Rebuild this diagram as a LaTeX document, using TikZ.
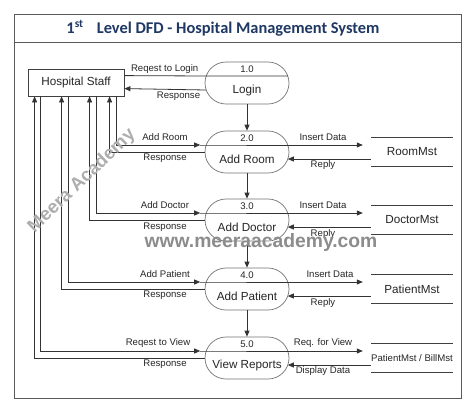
\documentclass[tikz,border=0pt]{standalone}
\usepackage{fontspec}
\setmainfont{Liberation Sans}
\newfontfamily\titlefont{Carlito}
\usetikzlibrary{arrows.meta,shapes.misc,calc}
\definecolor{titleblue}{HTML}{1F3864}
\definecolor{framegray}{HTML}{5A5A5A}
\definecolor{wmgray}{HTML}{8C8C8C}
\definecolor{wmlight}{HTML}{ADADAD}
\begin{document}
\begin{tikzpicture}[x=1pt,y=-1pt,
  flow/.style={draw=black!80, line width=0.8pt},
  arr/.style={flow,-{Triangle[length=6pt,width=5pt]}},
  proc/.style={rounded rectangle, draw=black!55, line width=0.7pt, minimum width=84pt, minimum height=42pt, inner sep=0pt},
  lbl/.style={font=\fontsize{9.6}{10}\selectfont, text=black!85, inner sep=0.5pt},
  big/.style={font=\fontsize{11.7}{12}\selectfont, text=black!85, inner sep=0.5pt},
  storenode/.style={minimum width=82pt, minimum height=28pt, inner sep=0pt, font=\fontsize{11.7}{12}\selectfont, text=black!85},
  storeline/.style={draw=black!75, line width=0.8pt},
  entity/.style={draw=black!75, line width=0.8pt, minimum width=96pt, minimum height=27pt, inner sep=0pt, font=\fontsize{11.7}{12}\selectfont, text=black!85},
  wmA/.style={font=\bfseries\fontsize{18.5}{20}\selectfont, rotate=44, inner sep=0pt},
  wmB/.style={font=\bfseries\fontsize{19.3}{20}\selectfont, inner sep=0pt}]
\useasboundingbox (0,0) rectangle (474,413);
\fill[white] (0,0) rectangle (474,413);
% frame
\draw[framegray, line width=1pt] (14,14) rectangle (461,398);
\draw[framegray, line width=1pt] (14,42) -- (461,42);
\node[font=\titlefont\bfseries\fontsize{16.4}{18}\selectfont, text=titleblue, inner sep=0pt] (title) at (223,28.5) {1\textsuperscript{st}\hspace{0.8em}Level DFD - Hospital Management System};

% entity
\node[entity] (staff) at (76,82.5) {Hospital Staff};

% processes
\node[proc] (p1) at (247,83) {};
\node[proc] (p2) at (247,152) {};
\node[proc] (p3) at (247,220) {};
\node[proc] (p4) at (247,289) {};
\node[proc] (p5) at (247,358) {};
\foreach \i/\num/\name in {1/1.0/Login,2/2.0/Add Room,3/3.0/Add Doctor,4/4.0/Add Patient,5/5.0/View Reports}{
  \node[lbl] (p\i n) at ($(p\i.center)+(0,-14)$) {\num};
  \node[big] (p\i l) at ($(p\i.center)+(0,7)$) {\name};
  \coordinate (p\i dl) at ($(p\i.center)+(-40.8,-7)$);
  \coordinate (p\i dr) at ($(p\i.center)+(40.8,-7)$);
  \coordinate (p\i bl) at ($(p\i.center)+(-40.8,7)$);
  \coordinate (p\i br) at ($(p\i.center)+(40.8,7)$);
}

% stores
\node[storenode] (st2) at (412,152) {RoomMst};
\node[storenode] (st3) at (412,220) {DoctorMst};
\node[storenode] (st4) at (412,289) {PatientMst};
\node[storenode, font=\fontsize{9.6}{10}\selectfont] (st5) at (412,358) {PatientMst / BillMst};
\foreach \i in {2,3,4,5}{
  \draw[storeline] (st\i.north west) -- (st\i.north east);
  \draw[storeline] (st\i.south west) -- (st\i.south east);
}

% login flows
\coordinate (sLreq) at ($(staff.north east)+(0,7)$);
\coordinate (sLres) at ($(staff.north east)+(0,20)$);
\draw[flow] (sLreq) -- (p1dl) -- (p1dr);
\draw[arr] (p1bl) -- (sLres);
\node[lbl, anchor=south east] (lreq) at (199,74) {Reqest to Login};
\node[lbl] (lres) at (178.5,96.5) {Response};

% vertical flows between processes
\draw[arr] (p1.south) -- (p2.north);
\draw[arr] (p2.south) -- (p3.north);
\draw[arr] (p3.south) -- (p4.north);
\draw[arr] (p4.south) -- (p5.north);

% staff foot points
\coordinate (f2q) at ($(staff.south west)+(89,0)$);
\coordinate (f2r) at ($(staff.south west)+(82,0)$);
\coordinate (f3q) at ($(staff.south west)+(69,0)$);
\coordinate (f3r) at ($(staff.south west)+(62,0)$);
\coordinate (f4q) at ($(staff.south west)+(41,0)$);
\coordinate (f4r) at ($(staff.south west)+(34,0)$);
\coordinate (f5q) at ($(staff.south west)+(13,0)$);
\coordinate (f5r) at ($(staff.south west)+(7,0)$);

\foreach \i in {2,3,4,5}{
  \coordinate (a\i) at ($(p\i dl)+(-6,0)$);
  \draw[arr] (f\i q) |- (a\i);
  \draw[flow] (a\i) -- (p\i dl) -- (p\i dr);
  \draw[arr] (p\i.west) -| (f\i r);
  \coordinate (in\i) at ($(st\i.west)+(-8,-7)$);
  \coordinate (rp\i) at ($(st\i.west)+(0,7)$);
  \draw[arr] (p\i dr) -- (in\i);
  \draw[arr] (rp\i) -- (p\i br);
}

% left labels
\node[lbl] (q2) at (165,137) {Add Room};
\node[lbl] (r2) at (165,158.5) {Response};
\node[lbl] (q3) at (165,205.5) {Add Doctor};
\node[lbl] (r3) at (165,227) {Response};
\node[lbl] (q4) at (165,274.5) {Add Patient};
\node[lbl] (r4) at (165,295.5) {Response};
\node[lbl] (q5) at (158,343) {Reqest to View};
\node[lbl] (r5) at (165,364.5) {Response};

% right labels
\node[lbl] (i2) at (323,137) {Insert Data};
\node[lbl] (y2) at (323,165) {Reply};
\node[lbl] (i3) at (323,205.5) {Insert Data};
\node[lbl] (y3) at (323,234) {Reply};
\node[lbl] (i4) at (330,274.5) {Insert Data};
\node[lbl] (y4) at (323,303) {Reply};
\node[lbl] (i5) at (323,343) {Req. for View};
\node[lbl] (y5) at (323,371.5) {Display Data};

% watermarks
\node[wmA, text=wmlight] (wm1) at (82,181) {Meera Academy};
\node[wmB, text=wmgray] (wm2) at (261,243) {www.meeraacademy.com};
\end{tikzpicture}
\end{document}
